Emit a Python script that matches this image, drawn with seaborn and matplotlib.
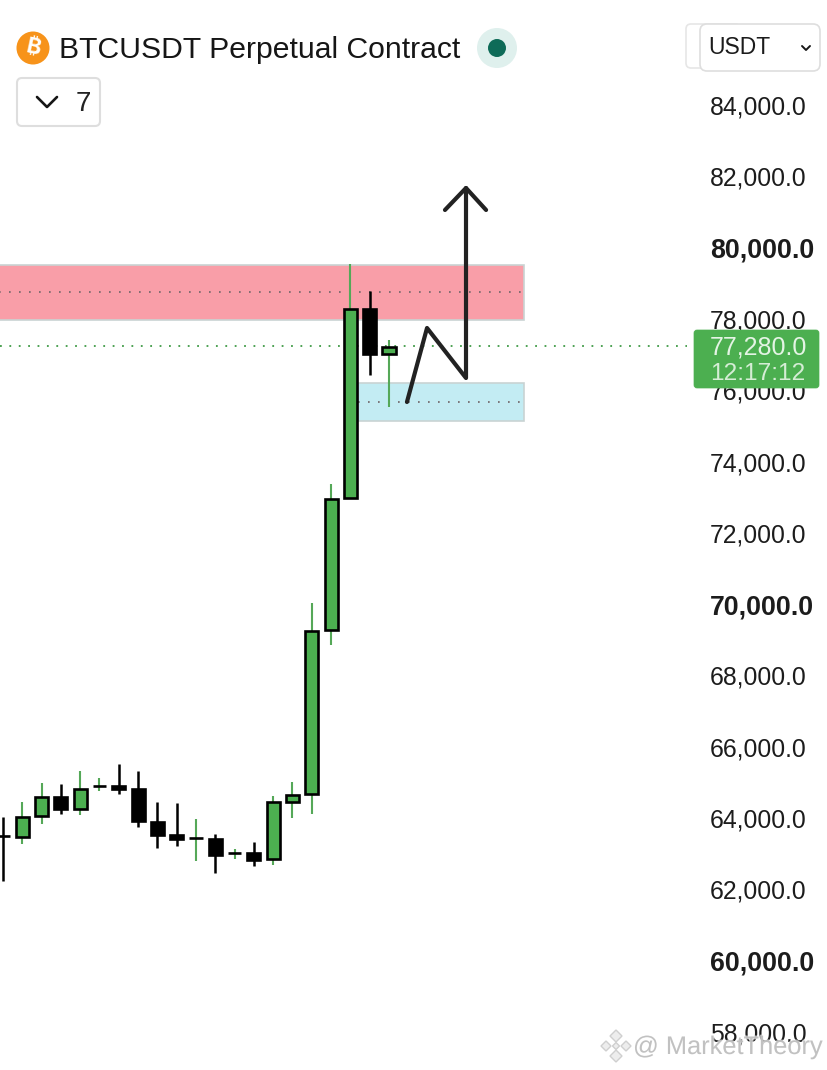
#!/usr/bin/env python3
"""BTCUSDT candles with supply/demand zones, screenshot style."""

import pandas as pd
import matplotlib.pyplot as plt
import matplotlib.patheffects as pe
import seaborn as sns
from matplotlib.patches import Circle, Ellipse, FancyBboxPatch, Polygon, Rectangle

# Candle values
wick_high = [64028, 64449, 64982, 64954, 65319, 65122, 65515, 65319, 64449, 64421, 63972,
             63552, 63131, 63327, 64617, 65010, 70031, 73369, 79540, 78783, 77408]
wick_low = [62233, 63271, 63832, 64113, 64084, 64758, 64674, 63748, 63159, 63215, 62794,
            62458, 62850, 62654, 62682, 64000, 64113, 68853, 72976, 76426, 75529]
body_top = [63495, 64028, 64589, 64589, 64814, 64898, 64898, 64814, 63888, 63523, 63439,
            63411, 63019, 63019, 64449, 64645, 69246, 72948, 78278, 78278, 77212]
body_bottom = [63495, 63467, 64056, 64253, 64253, 64898, 64814, 63916, 63523, 63411, 63439,
               62962, 63019, 62822, 62850, 64449, 64674, 69274, 72976, 77016, 77016]
candle_dir = ['down', 'up', 'up', 'down', 'up', 'up', 'down', 'down', 'down', 'down', 'up',
              'down', 'up', 'down', 'up', 'up', 'up', 'up', 'up', 'down', 'up']

# Price axis
price_ticks = [84000, 82000, 80000, 78000, 76000, 74000, 72000, 70000, 68000, 66000, 64000,
               62000, 60000, 58000]
last_price = 77240
last_price_label = '77,280.0'
countdown_label = '12:17:12'

# Zones: (bottom, top, dotted mid line)
red_zone = (77970, 79512, 78755)
blue_zone = (75136, 76202, 75669)

# Hand drawn projection
path_x = [20.93, 21.97, 23.99, 23.99]
path_y = [75669, 77745, 76342, 81672]
head_x = [22.9, 23.99, 25.03]
head_y = [81055, 81672, 81055]

GREEN = '#4CAF50'
WICK_GREEN = '#55A858'
WIDTH, HEIGHT = 828, 1070
BAR_PX = 19.3


def px_x(px):
    return (px - 3) / BAR_PX


sns.set_style('white')
plt.rcParams['font.family'] = ['Liberation Sans', 'DejaVu Sans']

fig = plt.figure(figsize=(WIDTH / 100, HEIGHT / 100), dpi=100)
ax = fig.add_axes([0, 0, 1, 1])

df = pd.DataFrame({'idx': range(len(wick_high)), 'high': wick_high, 'low': wick_low,
                   'top': body_top, 'bottom': body_bottom, 'dir': candle_dir})
df['height'] = df['top'] - df['bottom']

# Zones go under everything else
for (low, high, mid), left, face in [(red_zone, px_x(-5), '#F99EA8'),
                                     (blue_zone, px_x(358), '#C3ECF3')]:
    ax.add_patch(Rectangle((left, low), px_x(524) - left, high - low, facecolor=face,
                           edgecolor='#C9D3D3', linewidth=1.2, zorder=0.5))
    ax.plot([left, px_x(524)], [mid, mid], color='#6E6466', linewidth=1.2,
            linestyle=(0, (1, 5)), zorder=0.8)

ax.plot([px_x(0), px_x(687)], [last_price, last_price], color='#3F9A45', linewidth=1.3,
        linestyle=(0, (1, 4.2)), zorder=0.8)

# Wicks
wicks = df.melt(id_vars=['idx', 'dir'], value_vars=['high', 'low'], value_name='price')
for direction, colour, lw in [('up', WICK_GREEN, 1.5), ('down', 'black', 1.8)]:
    sns.lineplot(data=wicks[wicks['dir'] == direction], x='idx', y='price', units='idx',
                 estimator=None, color=colour, linewidth=lw, solid_capstyle='butt', ax=ax,
                 legend=False, zorder=2)

# Bodies
for direction, colour in [('up', GREEN), ('down', 'black')]:
    part = df[df['dir'] == direction]
    sns.barplot(data=part, x='idx', y='height', native_scale=True, bottom=part['bottom'].values,
                width=0.68, color=colour, saturation=1, edgecolor='black', linewidth=1.9,
                errorbar=None, ax=ax, zorder=3)

# Projection arrow
sns.lineplot(x=path_x, y=path_y, sort=False, estimator=None, color='#222222', linewidth=3,
             ax=ax, zorder=4)
sns.lineplot(x=head_x, y=head_y, sort=False, estimator=None, color='#222222', linewidth=3,
             ax=ax, zorder=4)

ax.set_xlim(px_x(0), px_x(WIDTH))
ax.set_ylim(84000 - 965 * 28.05, 84000 + 105 * 28.05)
ax.set_xlabel('')
ax.set_ylabel('')
ax.set_xticks([])
ax.yaxis.tick_right()
ax.set_yticks(price_ticks)
ax.set_yticklabels([f'{p:,.1f}' for p in price_ticks])
ax.tick_params(axis='y', length=0, pad=-85, labelsize=17.8, labelcolor='#1c1c1c')
for label, p in zip(ax.get_yticklabels(), price_ticks):
    if p % 10000 == 0:
        label.set_fontweight('bold')
        label.set_fontsize(19.3)
sns.despine(ax=ax, left=True, bottom=True)

# Screen chrome sits in pixel coordinates over the chart
ui = fig.add_axes([0, 0, 1, 1], facecolor='none')
ui.set_xlim(0, WIDTH)
ui.set_ylim(HEIGHT, 0)
ui.axis('off')


def round_box(x0, y0, x1, y1, face='white', edge='#DEDEDE', lw=1.2, r=5):
    ui.add_patch(FancyBboxPatch((x0 + r, y0 + r), x1 - x0 - 2 * r, y1 - y0 - 2 * r,
                                boxstyle=f'round,pad={r},rounding_size={r}', facecolor=face,
                                edgecolor=edge, linewidth=lw))


ui.add_patch(Circle((33, 48), 16.5, facecolor='#F7931A', edgecolor='none'))
ui.text(33, 48, '\u20bf', color='white', fontsize=16, fontweight='bold', ha='center',
        va='center', rotation=-12,
        family=['Inter', 'Roboto', 'Noto Sans', 'Open Sans', 'Lato', 'Noto Sans CJK SC',
                'DejaVu Sans'])
ui.text(59, 50, 'BTCUSDT Perpetual Contract', fontsize=21.7, color='#161616', va='center')
ui.add_patch(Ellipse((497, 48), 40, 40, facecolor='#DFF0ED', edgecolor='none'))
ui.add_patch(Ellipse((497, 48), 18, 18, facecolor='#0E6B58', edgecolor='none'))

round_box(17, 78, 100, 126, lw=1.5)
ui.plot([37, 47, 57], [97, 107, 97], color='#161616', linewidth=1.9)
ui.text(83, 104, '7', fontsize=20, color='#222222', ha='center', va='center')

round_box(686, 24, 740, 68, edge='#E6E6E6')
round_box(700, 24, 820, 71, r=7)
ui.text(708, 48, 'USDT', fontsize=16.5, color='#1c1c1c', va='center')
ui.plot([802, 806, 810], [46, 50, 46], color='#161616', linewidth=1.4)

# Last price tag
round_box(694, 330, 819, 388, face=GREEN, edge=GREEN, lw=0.5, r=3)
ui.text(758, 347.5, last_price_label, fontsize=18, color='#E4F4E4', ha='center', va='center')
ui.text(758, 373.5, countdown_label, fontsize=17.6, color='#D5EDD5', ha='center', va='center')

# Watermark
halo = [pe.withStroke(linewidth=1.5, foreground='white', alpha=0.6)]
ui.text(633, 1047, '@ MarketTheory', fontsize=18.3, color='#BDBDBD', va='center',
        path_effects=halo, alpha=0.9)
for cx, cy, s in [(616, 1036, 6), (606, 1046, 5), (626, 1046, 5), (616, 1046, 3.5),
                  (616, 1056, 6)]:
    ui.add_patch(Polygon([(cx, cy - s), (cx + s, cy), (cx, cy + s), (cx - s, cy)],
                         facecolor='#EDEDED', edgecolor='#CFCFCF', linewidth=1))

fig.savefig('out.png', dpi=100)
